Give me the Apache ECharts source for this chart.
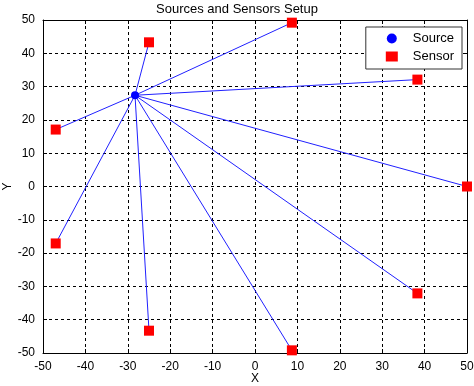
<!DOCTYPE html>
<html><head><meta charset="utf-8">
<script src="https://cdn.jsdelivr.net/npm/echarts@6/dist/echarts.min.js"></script>
<style>html,body{margin:0;padding:0;background:#fff}#c{width:474px;height:386px}</style>
</head><body><div id="c"></div>
<script>
const sourcePos = [-28.3, 27.4];
const sensorX = [50, 38.3, 8.7, -25, -47, -47, -25, 8.7, 38.3];
const sensorY = [0, 32.1, 49.2, 43.3, 17.1, -17.1, -43.3, -49.2, -32.1];
const xTicks = [-50, 50, 10];
const yTicks = [-50, 50, 10];

const font = 'Liberation Sans, Arial, sans-serif';
const sensors = sensorX.map((x, i) => [x, sensorY[i]]);
const lineSeries = sensors.map(s => ({
  type: 'line', data: [sourcePos, s], symbol: 'none', silent: true,
  lineStyle: {color: '#2020ff', width: 1}, z: 1, animation: false
}));
const axisCommon = {
  type: 'value', interval: 10,
  axisLine: {show: true, onZero: false, lineStyle: {color: '#000', width: 1}},
  axisTick: {show: true, inside: true, length: 4, lineStyle: {color: '#000'}},
  splitLine: {show: true, lineStyle: {color: '#000', type: [3, 3], width: 1}},
  axisLabel: {color: '#000', fontSize: 12, fontFamily: font}
};
const chart = echarts.init(document.getElementById('c'));
chart.setOption({
  animation: false,
  title: {text: 'Sources and Sensors Setup', left: 'center', top: -2,
    textStyle: {fontSize: 13, fontWeight: 'normal', color: '#000', fontFamily: font}},
  grid: {left: 43, right: 7, top: 20, bottom: 33, outerBoundsMode: 'none', containLabel: false},
  legend: {
    orient: 'vertical', right: 12, top: 27, backgroundColor: '#fff',
    borderColor: '#333', borderWidth: 1, padding: [5, 8, 6, 20], itemGap: 5,
    itemWidth: 12, itemHeight: 10,
    textStyle: {fontSize: 13, color: '#000', fontFamily: font, padding: [0, 0, 0, 10]},
    data: [{name: 'Source', icon: 'circle'}, {name: 'Sensor', icon: 'rect'}]
  },
  xAxis: [
    Object.assign({}, axisCommon, {min: xTicks[0], max: xTicks[1], interval: xTicks[2],
      name: 'X', nameLocation: 'middle', nameGap: 20, nameMoveOverlap: false,
      nameTextStyle: {color: '#000', fontSize: 12, fontFamily: font}}),
    Object.assign({}, axisCommon, {min: xTicks[0], max: xTicks[1], interval: xTicks[2],
      position: 'top', splitLine: {show: false}, axisLabel: {show: false}})
  ],
  yAxis: [
    Object.assign({}, axisCommon, {min: yTicks[0], max: yTicks[1], interval: yTicks[2],
      name: 'Y', nameLocation: 'middle', nameGap: 35, nameMoveOverlap: false, nameRotate: 90,
      nameTextStyle: {color: '#000', fontSize: 12, fontFamily: font, verticalAlign: 'middle', align: 'center'}}),
    Object.assign({}, axisCommon, {min: yTicks[0], max: yTicks[1], interval: yTicks[2],
      position: 'right', splitLine: {show: false}, axisLabel: {show: false}})
  ],
  series: lineSeries.concat([
    {name: 'Sensor', type: 'scatter', data: sensors, symbol: 'rect', symbolSize: 10,
      itemStyle: {color: '#ff0000', opacity: 1}, z: 3},
    {name: 'Source', type: 'scatter', data: [sourcePos], symbol: 'circle', symbolSize: 8,
      itemStyle: {color: '#0000ff', opacity: 1}, z: 4}
  ])
});
</script></body></html>
